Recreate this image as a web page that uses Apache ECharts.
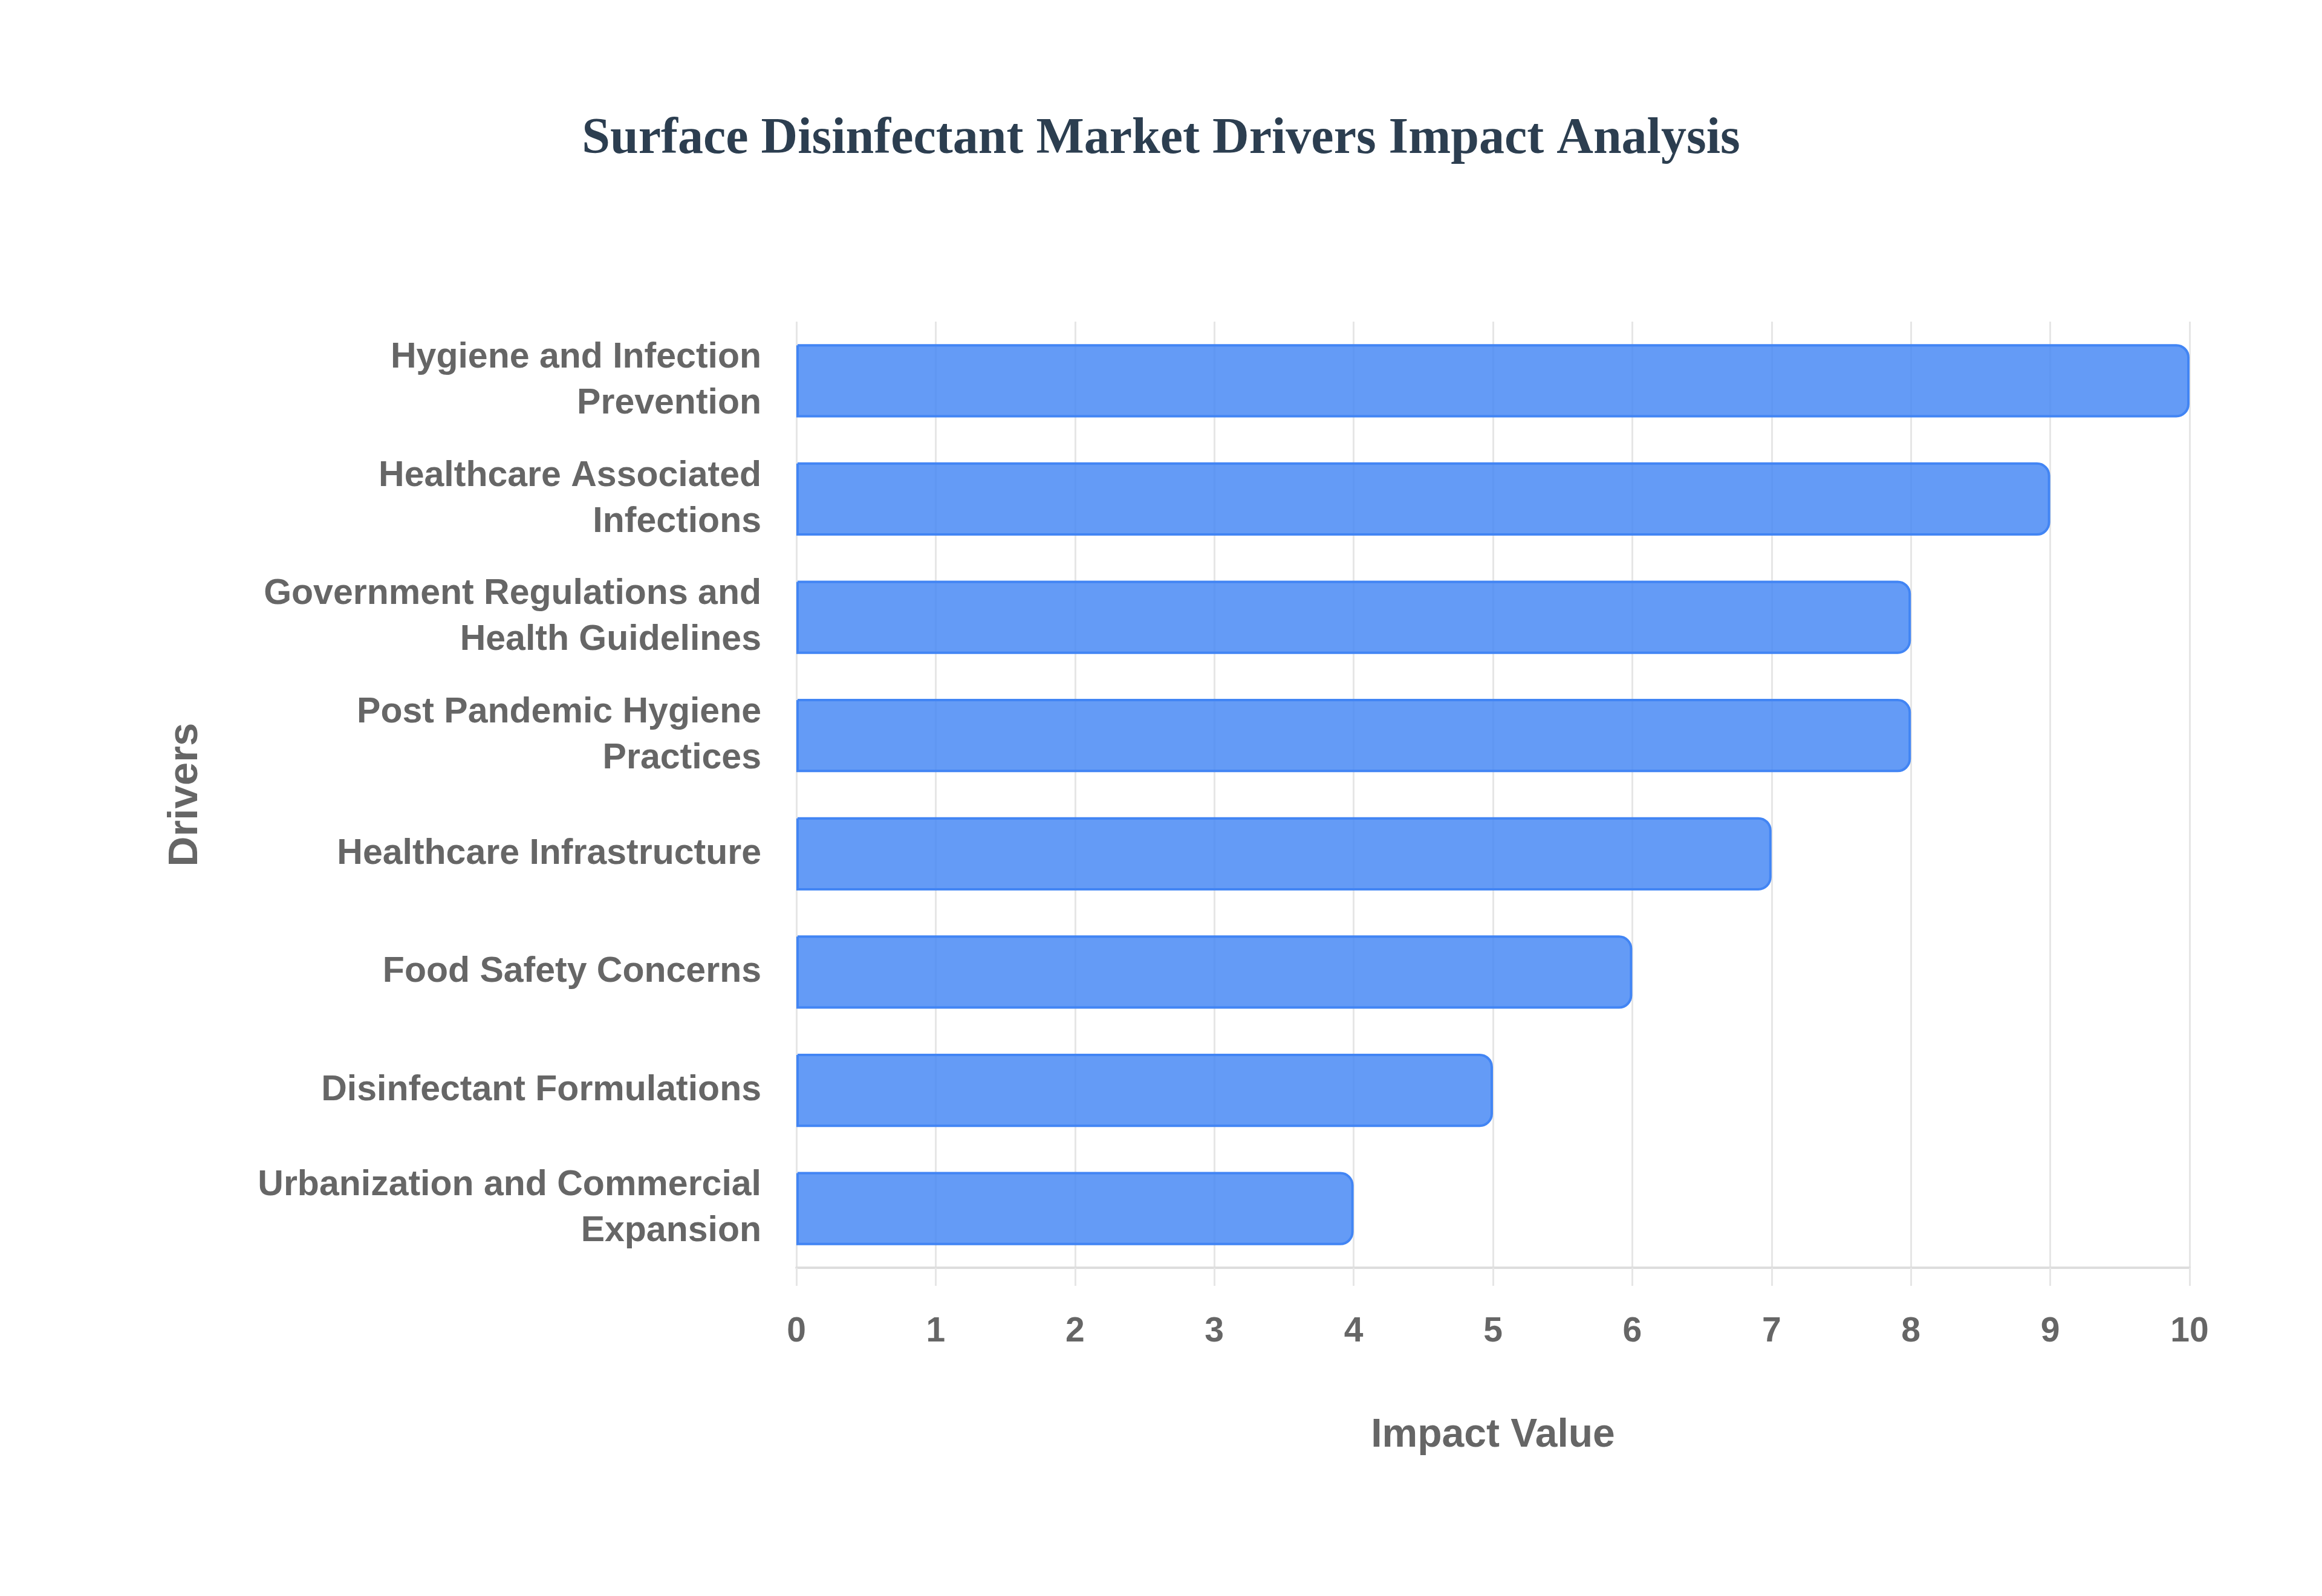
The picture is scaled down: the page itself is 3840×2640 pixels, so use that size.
<!DOCTYPE html>
<html>
<head>
<meta charset="utf-8">
<title>Surface Disinfectant Market Drivers Impact Analysis</title>
<script src="https://cdn.jsdelivr.net/npm/echarts@6/dist/echarts.min.js"></script>
<style>
	* { margin: 0; padding: 0; }
	html, body { width: 100%; height: 100%; background: #fff; }
	#main { width: 3840px; height: 2640px; }
</style>
</head>
<body>
<div id="main"></div>
<script type="text/javascript">
	// drivers, top to bottom as shown
	var drivers = [
		"Hygiene and Infection\nPrevention",
		"Healthcare Associated\nInfections",
		"Government Regulations and\nHealth Guidelines",
		"Post Pandemic Hygiene\nPractices",
		"Healthcare Infrastructure",
		"Food Safety Concerns",
		"Disinfectant Formulations",
		"Urbanization and Commercial\nExpansion"
	];
	var impactValues = [10, 9, 8, 8, 7, 6, 5, 4];

	var axisMin = 0;
	var axisMax = 10;
	var axisStep = 1;

	var textGray = '#666666';
	var labelFont = '"Liberation Sans", Arial, sans-serif';

	var myChart = echarts.init(document.getElementById('main'));

	var option = {
		backgroundColor: '#ffffff',
		animation: false,
		title: {
			text: 'Surface Disinfectant Market Drivers Impact Analysis',
			left: 'center',
			top: 184,
			textStyle: {
				fontFamily: '"Liberation Serif", "Times New Roman", serif',
				fontWeight: 'bold',
				fontSize: 84,
				color: '#2c3e50'
			}
		},
		grid: {
			left: 1317,
			right: 219,
			top: 532,
			bottom: 543
		},
		xAxis: {
			type: 'value',
			min: axisMin,
			max: axisMax,
			interval: axisStep,
			name: 'Impact Value',
			nameLocation: 'middle',
			nameGap: 245,
			nameTextStyle: {
				fontFamily: labelFont,
				fontWeight: 'bold',
				fontSize: 66,
				color: textGray
			},
			axisLine: {
				show: true,
				lineStyle: { color: '#dddddd', width: 4 }
			},
			axisTick: {
				show: true,
				length: 30,
				lineStyle: { color: '#e6e6e6', width: 3 }
			},
			splitLine: {
				show: true,
				lineStyle: { color: '#e6e6e6', width: 3 }
			},
			axisLabel: {
				margin: 78,
				fontFamily: labelFont,
				fontWeight: 'bold',
				fontSize: 57,
				color: textGray
			}
		},
		yAxis: {
			type: 'category',
			inverse: true,
			data: drivers,
			name: 'Drivers',
			nameLocation: 'middle',
			nameGap: 976,
			nameTextStyle: {
				fontFamily: labelFont,
				fontWeight: 'bold',
				fontSize: 69,
				color: textGray
			},
			axisLine: { show: false },
			axisTick: { show: false },
			splitLine: { show: false },
			axisLabel: {
				margin: 58,
				align: 'right',
				lineHeight: 76,
				fontFamily: labelFont,
				fontWeight: 'bold',
				fontSize: 59,
				color: textGray
			}
		},
		series: [{
			name: 'Impact Value',
			type: 'bar',
			data: impactValues,
			barWidth: '62%',
			itemStyle: {
				color: 'rgba(66, 133, 244, 0.82)',
				borderColor: '#4285f4',
				borderWidth: 4,
				borderRadius: [0, 20, 20, 0]
			}
		}]
	};

	myChart.setOption(option);
	window.onresize = function () {
		myChart.resize();
	};
</script>
</body>
</html>
